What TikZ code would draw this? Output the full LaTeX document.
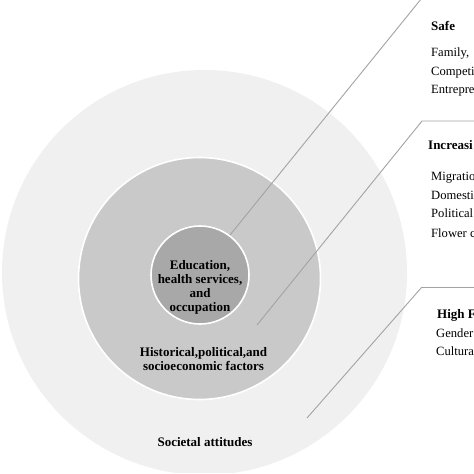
\documentclass[tikz,border=0pt]{standalone}
\usepackage{fontspec}
\setmainfont{Liberation Serif}
\begin{document}
\begin{tikzpicture}[x=1bp,y=-1bp,
  disc/.style={circle,inner sep=0pt,outer sep=0pt},
  leader/.style={draw=black!36,line width=0.9bp},
  ctext/.style={align=center,inner sep=0pt,font=\fontsize{13bp}{14bp}\selectfont\bfseries},
  ttl/.style={anchor=base west,inner sep=0pt,font=\fontsize{13bp}{15bp}\selectfont\bfseries},
  itm/.style={anchor=base west,inner sep=0pt,font=\fontsize{12.6bp}{14bp}\selectfont}]
\useasboundingbox (0,0) rectangle (474,474);
\clip (0,0) rectangle (474,474);
\fill[white] (0,0) rectangle (474,474);
\begin{scope}
  \clip (0,0) rectangle (474,472);
  \node[disc,fill=black!6,minimum size=405bp] (outer) at (204.5,272.5) {};
\end{scope}
\node[disc,fill=black!21,draw=white,line width=1.6bp,minimum size=242bp] (middle) at (199.5,278.5) {};
\node[disc,fill=black!34,draw=white,line width=1.6bp,minimum size=98bp] (core) at (200,275) {};
% centre texts
\node[ctext] (tcore) at (200,287) {Education,\\health services,\\and\\occupation};
\node[ctext] (tmid) at (203.5,359.5) {Historical,political,and\\socioeconomic factors};
\node[ctext] (tout) at (205,442.5) {Societal attitudes};
% leaders
\coordinate (p1) at (230,235);
\coordinate (e1) at (430,-12);
\coordinate (p2) at (257,325);
\coordinate (e2) at (422,121);
\coordinate (r2) at (480,121);
\coordinate (p3) at (307,418);
\coordinate (e3) at (421.5,287.5);
\coordinate (r3) at (480,287.5);
\draw[leader] (p1) -- (e1);
\draw[leader] (p2) -- (e2) -- (r2);
\draw[leader] (p3) -- (e3) -- (r3);
% right texts
\node[ttl] (safe) at (431,30.5) {Safe};
\node[itm] (s1) at (431,57) {Family,};
\node[itm] (s2) at (431,75.5) {Competi};
\node[itm] (s3) at (431,94) {Entrepre};
\node[ttl] (inc) at (428,149.5) {Increasi};
\node[itm] (i1) at (431,181) {Migratio};
\node[itm] (i2) at (431,199.5) {Domesti};
\node[itm] (i3) at (431,218) {Political};
\node[itm] (i4) at (431,237) {Flower c};
\node[ttl] (high) at (437,318) {High F};
\node[itm] (h1) at (436,337) {Gender};
\node[itm] (h2) at (436,355.5) {Cultura};
\end{tikzpicture}
\end{document}
